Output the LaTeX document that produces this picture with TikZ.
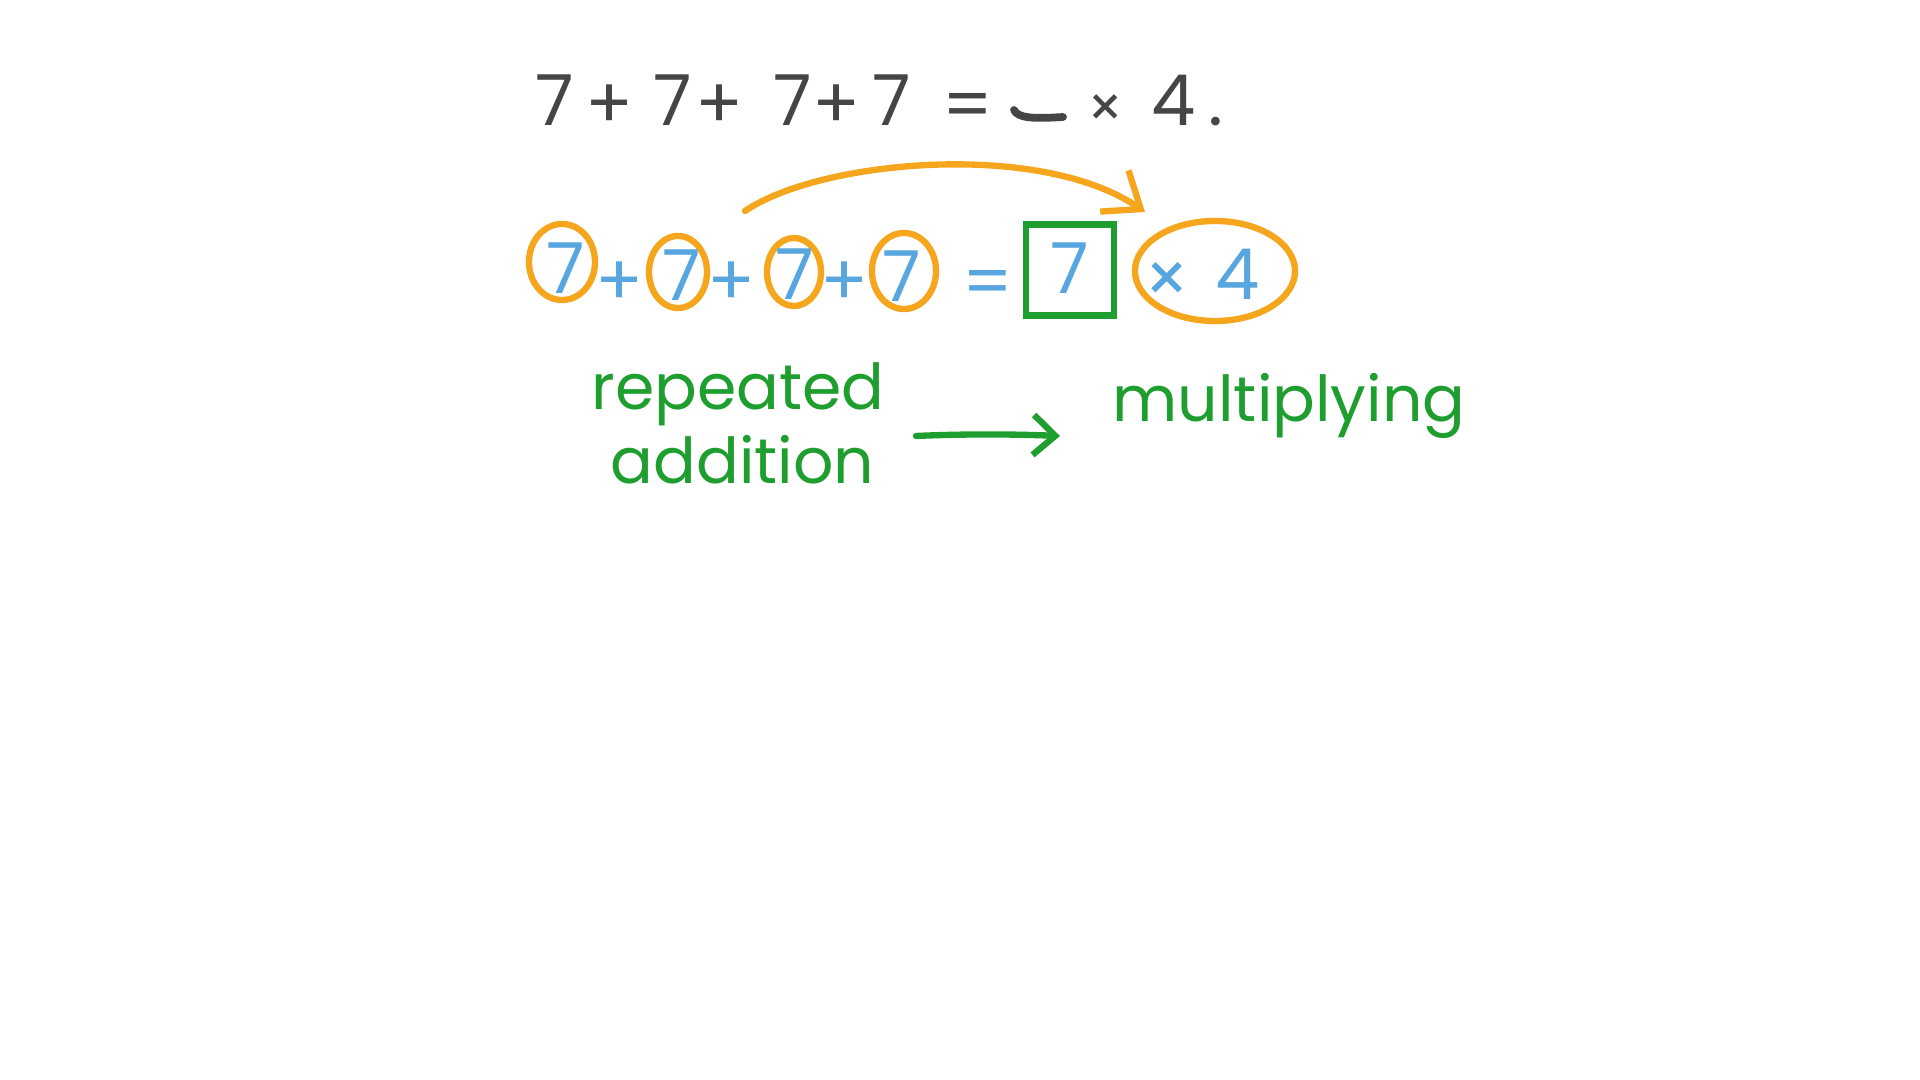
\documentclass[tikz,border=0pt]{standalone}
\usepackage{fontspec}
\setmainfont{Poppins}
\usetikzlibrary{shapes.geometric,arrows.meta}
\definecolor{ink}{HTML}{454545}
\definecolor{bl}{HTML}{58A6E0}
\definecolor{org}{HTML}{F5A61C}
\definecolor{grn}{HTML}{1E9E2E}
\tikzset{
  dig/.style={font=\fontsize{20}{24}\selectfont, inner sep=0pt, anchor=base},
  topd/.style={dig, text=ink},
  bld/.style={dig, text=bl},
  ring/.style={ellipse, draw=org, line width=1.8pt, inner sep=0pt},
  gbox/.style={rectangle, draw=grn, line width=1.8pt, inner sep=0pt},
  gtxt/.style={font=\fontsize{18}{22}\selectfont, text=grn, inner sep=0pt, anchor=base west},
  orarrow/.style={draw=org, line width=1.8pt, line cap=round, -{Straight Barb[length=0.32cm,width=0.5cm,line width=1.8pt]}},
  grarrow/.style={draw=grn, line width=1.8pt, line cap=round, -{Straight Barb[length=0.22cm,width=0.4cm,line width=1.8pt]}}
}
\begin{document}
\begin{tikzpicture}[x=0.01cm,y=-0.01cm]
\useasboundingbox[fill=white] (0,0) rectangle (1920,1080);
% top line
\node[topd] (t1) at (555,126) {7};
\node[topd] (t2) at (610,129) {+};
\node[topd] (t3) at (673,126) {7};
\node[topd] (t4) at (720,129) {+};
\node[topd] (t5) at (793,126) {7};
\node[topd] (t6) at (837,129) {+};
\node[topd] (t7) at (892,126) {7};
\node[topd] (t8) at (968,130) {=};
\coordinate (b1) at (1014,110);
\coordinate (b2) at (1063,117);
\draw[ink, line width=2.2pt, line cap=round] (b1) .. controls (1018,118) and (1032,119) .. (b2);
\node[topd, font=\fontsize{16}{20}\selectfont] (t9) at (1106,128) {×};
\node[topd] (t10) at (1174,126) {4};
\node[topd] (t11) at (1216,126) {.};
% blue line
\node[ring, minimum width=0.66cm, minimum height=0.76cm] (c1) at (562,262) {};
\node[bld] (d1) at (566,294) {7};
\node[bld] (p1) at (620,306) {+};
\node[ring, minimum width=0.58cm, minimum height=0.72cm] (c2) at (678,272) {};
\node[bld] (d2) at (682,301) {7};
\node[bld] (p2) at (732,306) {+};
\node[ring, minimum width=0.54cm, minimum height=0.68cm] (c3) at (794,272) {};
\node[bld] (d3) at (795,300) {7};
\node[bld] (p3) at (845,306) {+};
\node[ring, minimum width=0.64cm, minimum height=0.76cm] (c4) at (904,271) {};
\node[bld] (d4) at (902,302) {7};
\node[bld] (eq) at (988,307) {=};
\node[gbox, minimum width=0.88cm, minimum height=0.91cm] (box) at (1070,270) {};
\node[bld] (d5) at (1070,294) {7};
\node[ring, minimum width=1.6cm, minimum height=1.0cm] (tm) at (1215,271) {};
\node[bld] (x1) at (1167,304) {×};
\node[bld] (f1) at (1238,300) {4};
% curved arrow
\coordinate (a1) at (745,211);
\coordinate (a2) at (1145,212);
\draw[orarrow] (a1) .. controls (820,160) and (1040,140) .. (a2);
% green text
\node[gtxt] (rep) at (591,410) {repeated};
\node[gtxt] (add) at (610,484) {addition};
\node[gtxt] (mul) at (1112,422) {multiplying};
\coordinate (g1) at (916,436);
\coordinate (g2) at (1060,436);
\draw[grarrow] (g1) .. controls (960,434) and (1010,434) .. (g2);
\end{tikzpicture}
\end{document}
